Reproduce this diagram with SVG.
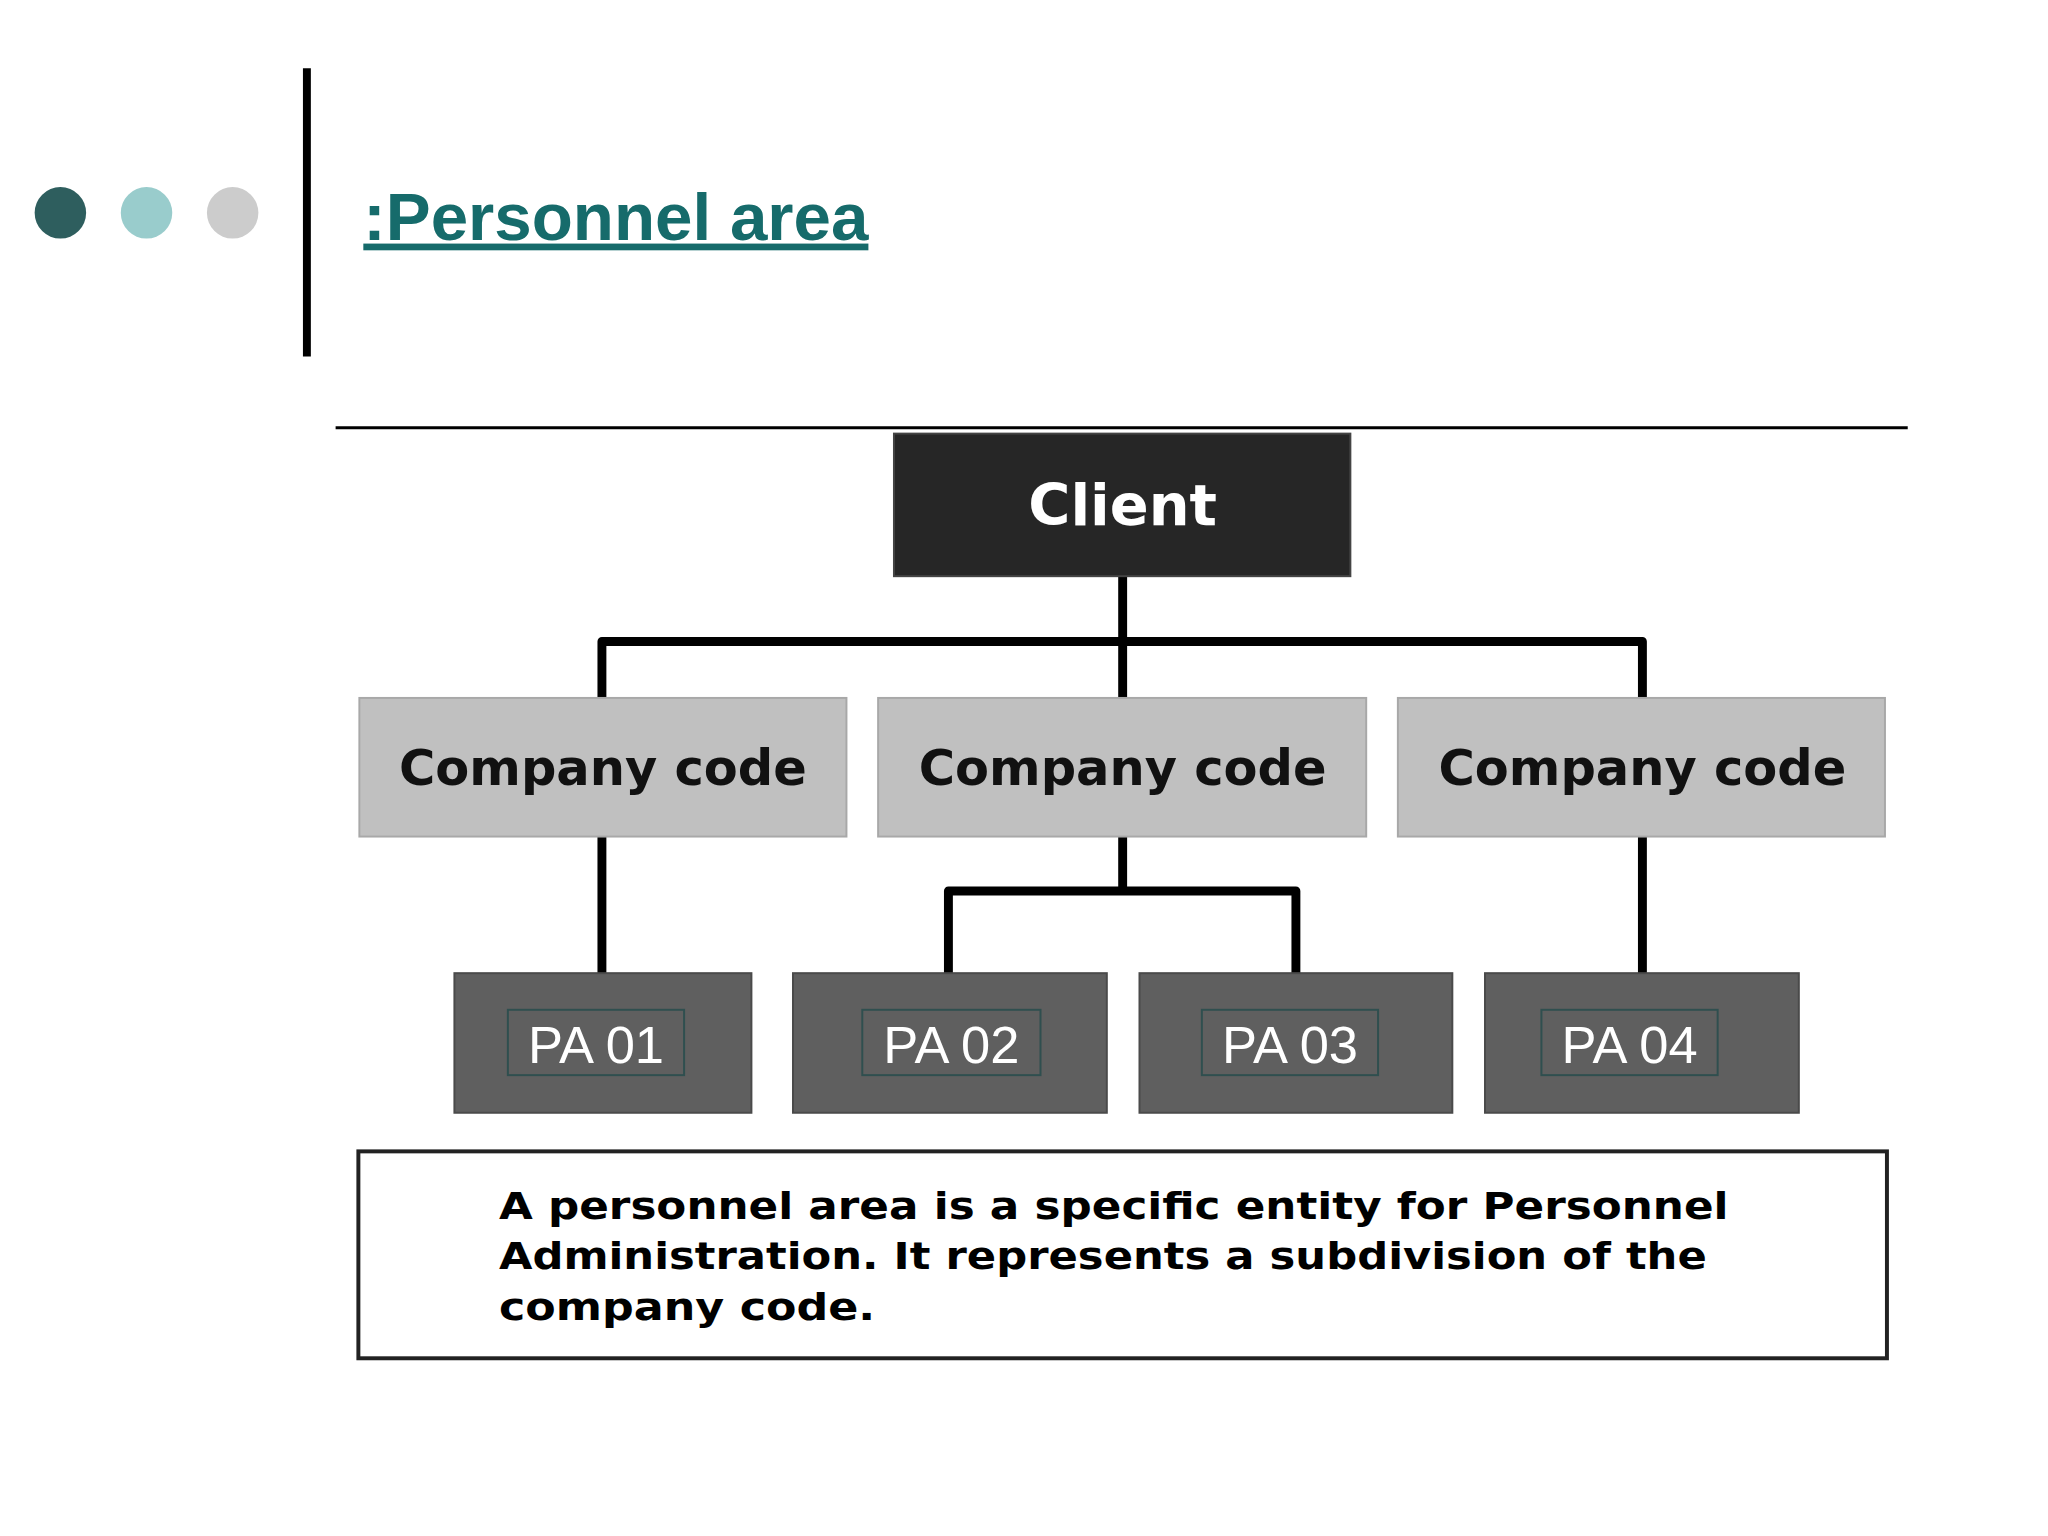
<svg xmlns="http://www.w3.org/2000/svg" width="2048" height="1536" viewBox="0 0 2048 1536">
<style>
.cc{fill:#c0c0c0;stroke:#a8a8a8;stroke-width:2}
.cct{font-family:"DejaVu Sans",sans-serif;font-weight:bold;font-size:50px;fill:#111;text-anchor:middle}
.pa{fill:#5f5f5f;stroke:#4a4a4a;stroke-width:2}
.pai{fill:none;stroke:#2f4f4f;stroke-width:2}
.pat{font-family:"Liberation Sans",Arial,sans-serif;font-size:53px;fill:#fff;text-anchor:middle}
.con{fill:none;stroke:#000;stroke-width:9;stroke-linejoin:round}
.desc{font-family:"DejaVu Sans",sans-serif;font-weight:bold;font-size:38px;fill:#000}
</style>
<rect width="2048" height="1536" fill="#fff"/>
<g transform="scale(0.99)">
<circle cx="61" cy="215" r="26" fill="#2e5e5e"/>
<circle cx="148" cy="215" r="26" fill="#99cccc"/>
<circle cx="235" cy="215" r="26" fill="#cccccc"/>
<line x1="310" y1="69" x2="310" y2="360" stroke="#000" stroke-width="8"/>
<text x="367" y="242" font-family="Liberation Sans,Arial,sans-serif" font-weight="bold" font-size="68" fill="#166b6b" text-decoration="underline">:Personnel area</text>
<line x1="339" y1="432" x2="1927" y2="432" stroke="#000" stroke-width="3"/>
<g id="connectors">
<path class="con" d="M1134 582V705M608 705V648H1659V705M608 845V983M1134 845V900M958 983V900H1309V983M1659 845V983"/>
</g>
<g id="client"><rect x="903" y="438" width="461" height="144" fill="#262626" stroke="#444" stroke-width="2"/><text x="1134" y="530" font-family="DejaVu Sans,sans-serif" font-weight="bold" font-size="58" fill="#fff" text-anchor="middle">Client</text></g>
<g id="cc1"><rect class="cc" x="363" y="705" width="492" height="140"/><text class="cct" x="609" y="793">Company code</text></g>
<g id="cc2"><rect class="cc" x="887" y="705" width="493" height="140"/><text class="cct" x="1134" y="793">Company code</text></g>
<g id="cc3"><rect class="cc" x="1412" y="705" width="492" height="140"/><text class="cct" x="1659" y="793">Company code</text></g>
<g id="pa01"><rect class="pa" x="459" y="983" width="300" height="141"/><rect class="pai" x="513" y="1020" width="178" height="66"/><text class="pat" x="602" y="1074">PA 01</text></g>
<g id="pa02"><rect class="pa" x="801" y="983" width="317" height="141"/><rect class="pai" x="871" y="1020" width="180" height="66"/><text class="pat" x="961" y="1074">PA 02</text></g>
<g id="pa03"><rect class="pa" x="1151" y="983" width="316" height="141"/><rect class="pai" x="1214" y="1020" width="178" height="66"/><text class="pat" x="1303" y="1074">PA 03</text></g>
<g id="pa04"><rect class="pa" x="1500" y="983" width="317" height="141"/><rect class="pai" x="1557" y="1020" width="178" height="66"/><text class="pat" x="1646" y="1074">PA 04</text></g>
<g id="desc"><rect x="362" y="1163" width="1544" height="209" fill="#fff" stroke="#222" stroke-width="4"/>
<text class="desc" x="504" y="1231" textLength="1242" lengthAdjust="spacingAndGlyphs">A personnel area is a specific entity for Personnel</text>
<text class="desc" x="504" y="1282" textLength="1220" lengthAdjust="spacingAndGlyphs">Administration. It represents a subdivision of the</text>
<text class="desc" x="504" y="1333" textLength="380" lengthAdjust="spacingAndGlyphs">company code.</text></g>
</g>
</svg>
